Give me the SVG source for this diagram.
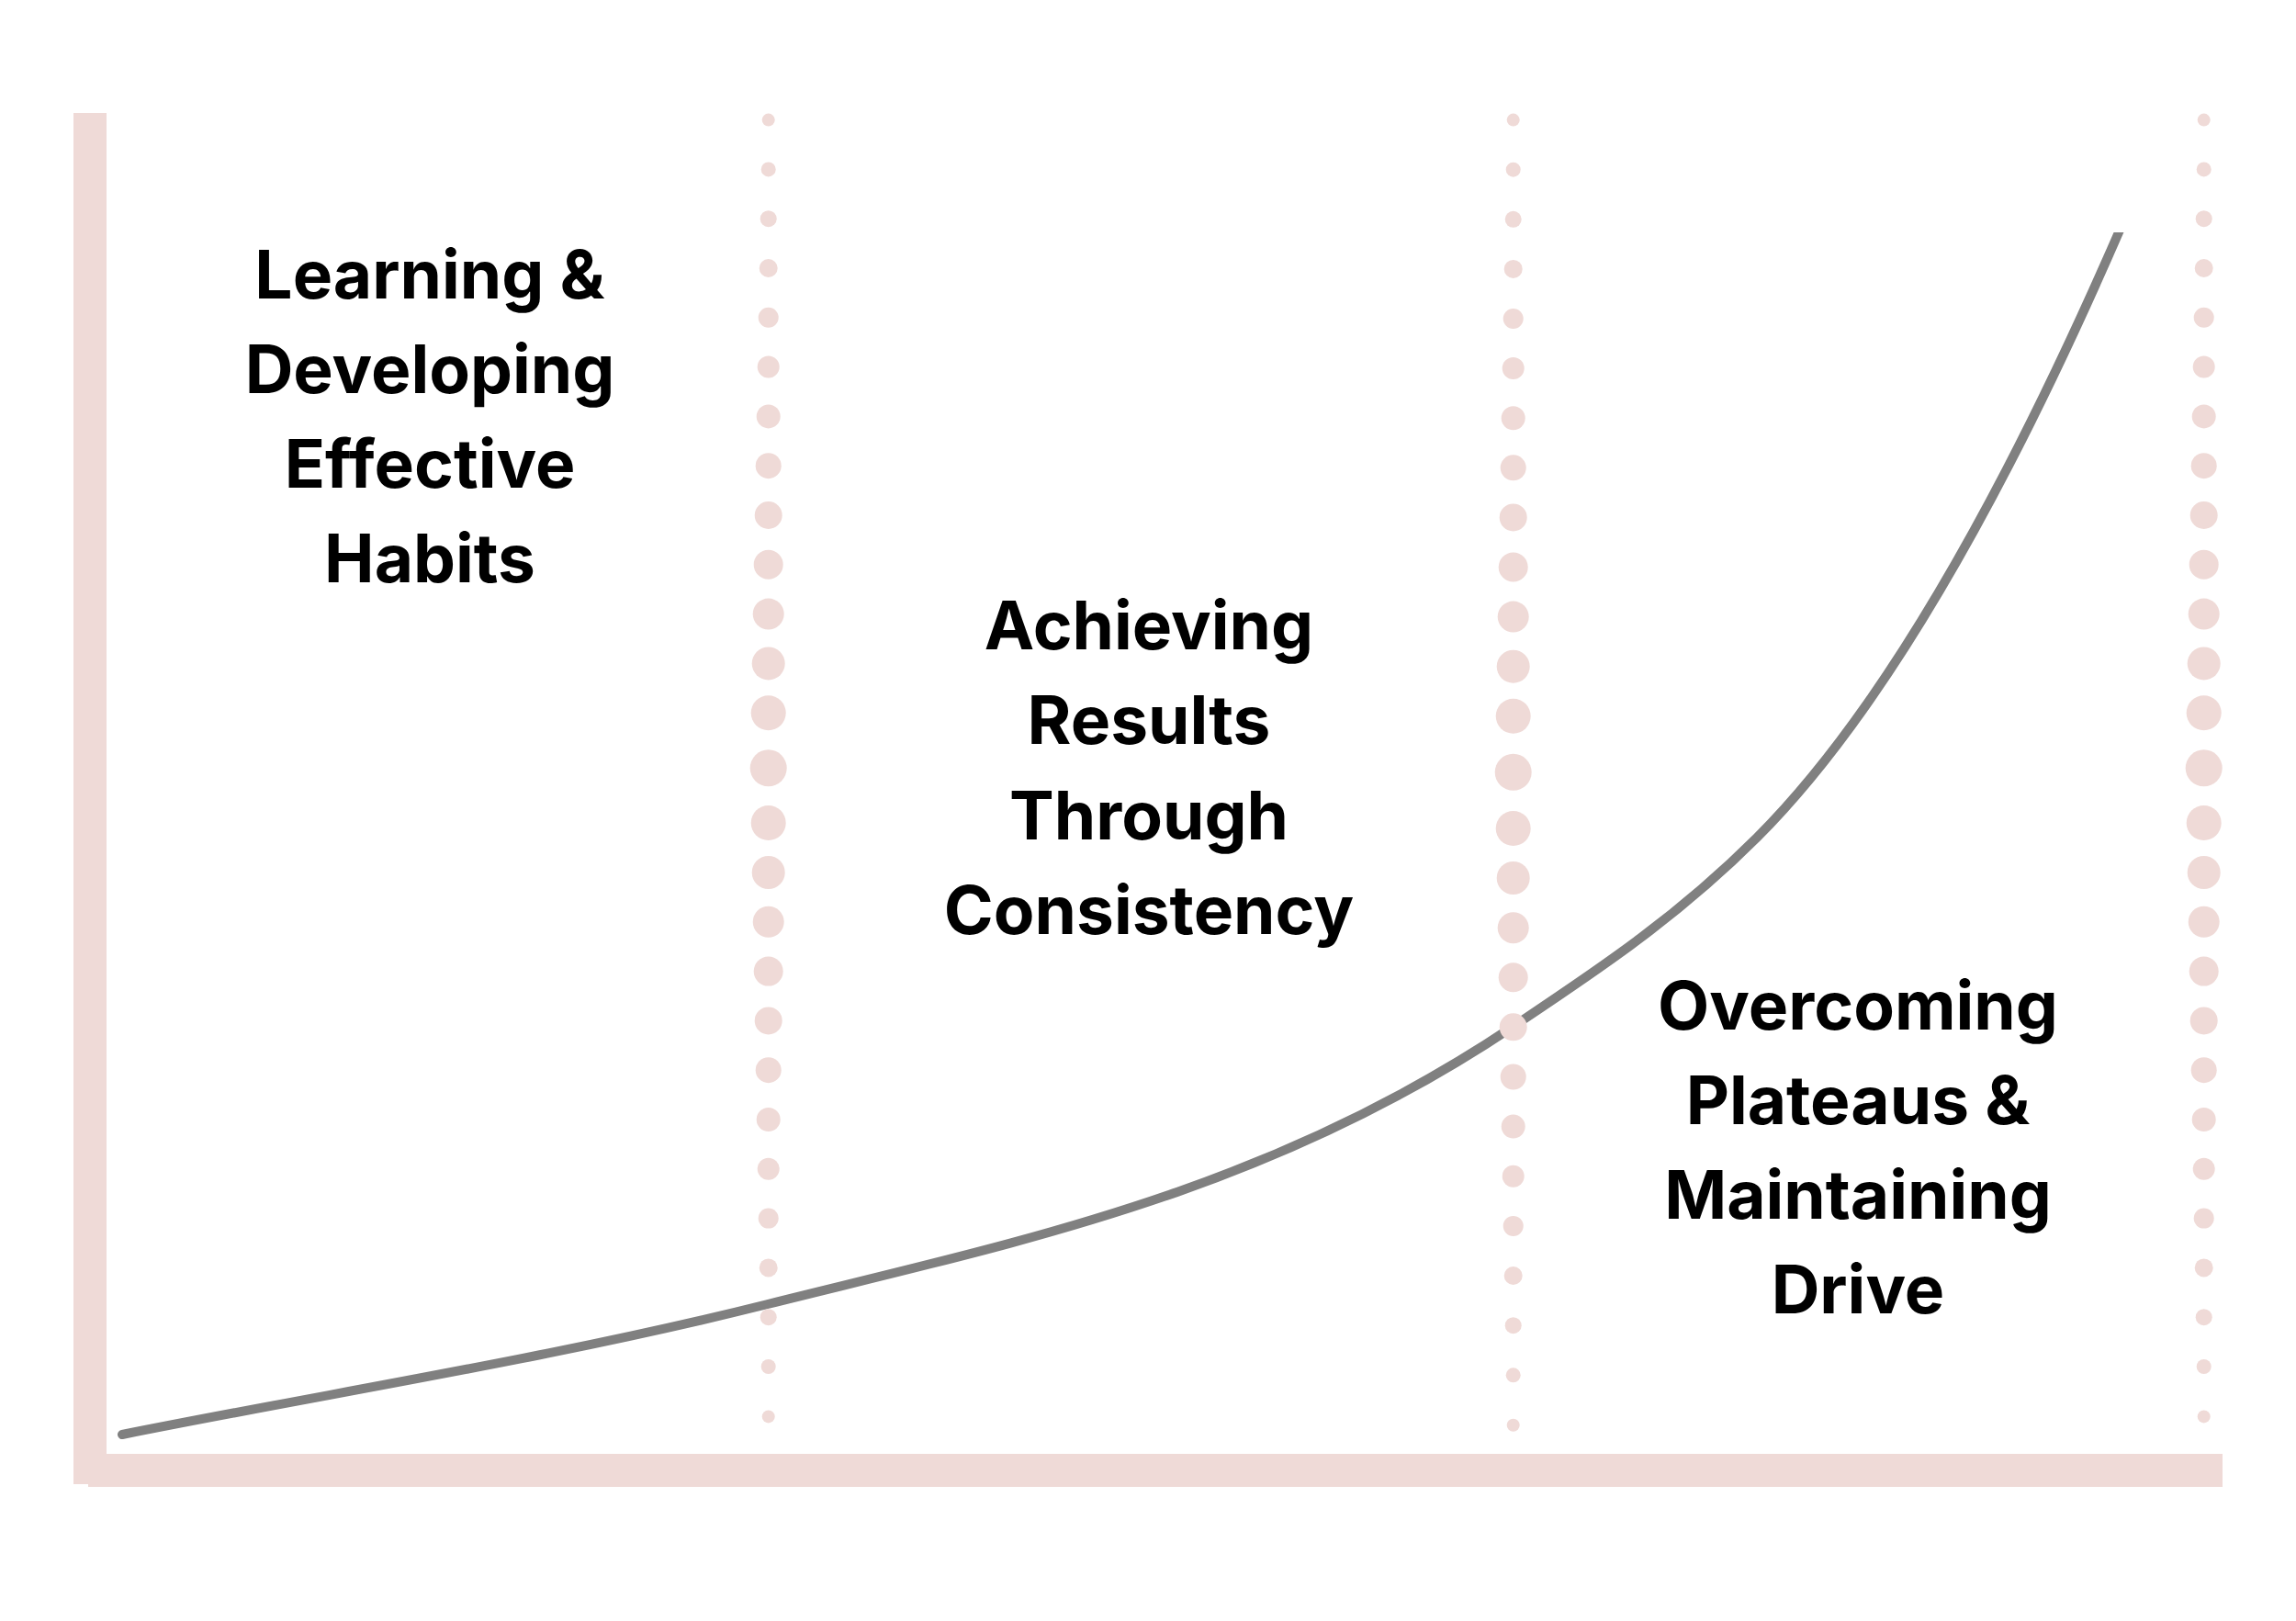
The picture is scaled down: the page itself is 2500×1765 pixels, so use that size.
<svg xmlns="http://www.w3.org/2000/svg" width="2500" height="1765" viewBox="0 0 2500 1765">
<style>
.bar{fill:#EFDAD7}
.dot{fill:#EFDAD7}
.lbl{font-family:Inter,"Liberation Sans",sans-serif;font-weight:700;font-size:73px;fill:#000;text-anchor:middle}
.curve{fill:none;stroke:#808080;stroke-width:10;stroke-linecap:round}
</style>
<defs>
<clipPath id="clipTop"><rect x="0" y="253" width="2500" height="1512"/></clipPath>
</defs>
<rect width="2500" height="1765" fill="#fff"/>
<g id="axes">
<rect class="bar" x="80" y="123" width="36" height="1493"/>
<rect class="bar" x="96" y="1583" width="2324" height="36"/>
</g>
<g id="connectors">
<path class="curve" clip-path="url(#clipTop)" d="M133,1562 C367.3,1515.1 601.7,1478.6 836,1420 C1106.3,1352.4 1376.7,1299.1 1647,1118 C1735.7,1058.6 1824.3,1000.7 1913,912 C2044.3,780.7 2175.7,555 2307,253 L2320,223"/>
</g>
<g id="divider1">
<circle class="dot" cx="836.7" cy="130.6" r="7"/>
<circle class="dot" cx="836.7" cy="184.4" r="8"/>
<circle class="dot" cx="836.7" cy="238.2" r="9"/>
<circle class="dot" cx="836.7" cy="292" r="10"/>
<circle class="dot" cx="836.7" cy="345.8" r="11"/>
<circle class="dot" cx="836.7" cy="399.6" r="12"/>
<circle class="dot" cx="836.7" cy="453.4" r="13"/>
<circle class="dot" cx="836.7" cy="507.2" r="14"/>
<circle class="dot" cx="836.7" cy="561" r="15"/>
<circle class="dot" cx="836.7" cy="614.8" r="16"/>
<circle class="dot" cx="836.7" cy="668.6" r="17"/>
<circle class="dot" cx="836.7" cy="722.4" r="18"/>
<circle class="dot" cx="836.7" cy="776.2" r="19"/>
<circle class="dot" cx="836.7" cy="836.3" r="20"/>
<circle class="dot" cx="836.7" cy="896" r="19"/>
<circle class="dot" cx="836.7" cy="950" r="18"/>
<circle class="dot" cx="836.7" cy="1003.8" r="17"/>
<circle class="dot" cx="836.7" cy="1057.6" r="16"/>
<circle class="dot" cx="836.7" cy="1111.4" r="15"/>
<circle class="dot" cx="836.7" cy="1165.2" r="14"/>
<circle class="dot" cx="836.7" cy="1219" r="13"/>
<circle class="dot" cx="836.7" cy="1272.8" r="12"/>
<circle class="dot" cx="836.7" cy="1326.6" r="11"/>
<circle class="dot" cx="836.7" cy="1380.4" r="10"/>
<circle class="dot" cx="836.7" cy="1434.2" r="9"/>
<circle class="dot" cx="836.7" cy="1488" r="8"/>
<circle class="dot" cx="836.7" cy="1542.4" r="7"/>
</g>
<g id="divider2">
<circle class="dot" cx="1647.7" cy="130.6" r="7"/>
<circle class="dot" cx="1647.7" cy="184.7" r="8"/>
<circle class="dot" cx="1647.7" cy="238.8" r="9"/>
<circle class="dot" cx="1647.7" cy="292.9" r="10"/>
<circle class="dot" cx="1647.7" cy="347" r="11"/>
<circle class="dot" cx="1647.7" cy="401.1" r="12"/>
<circle class="dot" cx="1647.7" cy="455.2" r="13"/>
<circle class="dot" cx="1647.7" cy="509.3" r="14"/>
<circle class="dot" cx="1647.7" cy="563.4" r="15"/>
<circle class="dot" cx="1647.7" cy="617.5" r="16"/>
<circle class="dot" cx="1647.7" cy="671.6" r="17"/>
<circle class="dot" cx="1647.7" cy="725.7" r="18"/>
<circle class="dot" cx="1647.7" cy="779.8" r="19"/>
<circle class="dot" cx="1647.7" cy="840.8" r="20"/>
<circle class="dot" cx="1647.7" cy="902" r="19"/>
<circle class="dot" cx="1647.7" cy="956" r="18"/>
<circle class="dot" cx="1647.7" cy="1010.2" r="17"/>
<circle class="dot" cx="1647.7" cy="1064.3" r="16"/>
<circle class="dot" cx="1647.7" cy="1118.3" r="15"/>
<circle class="dot" cx="1647.7" cy="1172.5" r="14"/>
<circle class="dot" cx="1647.7" cy="1226.6" r="13"/>
<circle class="dot" cx="1647.7" cy="1280.8" r="12"/>
<circle class="dot" cx="1647.7" cy="1334.9" r="11"/>
<circle class="dot" cx="1647.7" cy="1389" r="10"/>
<circle class="dot" cx="1647.7" cy="1443.2" r="9"/>
<circle class="dot" cx="1647.7" cy="1497.3" r="8"/>
<circle class="dot" cx="1647.7" cy="1551.8" r="7"/>
</g>
<g id="divider3">
<circle class="dot" cx="2399.7" cy="130.6" r="7"/>
<circle class="dot" cx="2399.7" cy="184.4" r="8"/>
<circle class="dot" cx="2399.7" cy="238.2" r="9"/>
<circle class="dot" cx="2399.7" cy="292" r="10"/>
<circle class="dot" cx="2399.7" cy="345.8" r="11"/>
<circle class="dot" cx="2399.7" cy="399.6" r="12"/>
<circle class="dot" cx="2399.7" cy="453.4" r="13"/>
<circle class="dot" cx="2399.7" cy="507.2" r="14"/>
<circle class="dot" cx="2399.7" cy="561" r="15"/>
<circle class="dot" cx="2399.7" cy="614.8" r="16"/>
<circle class="dot" cx="2399.7" cy="668.6" r="17"/>
<circle class="dot" cx="2399.7" cy="722.4" r="18"/>
<circle class="dot" cx="2399.7" cy="776.2" r="19"/>
<circle class="dot" cx="2399.7" cy="836.3" r="20"/>
<circle class="dot" cx="2399.7" cy="896" r="19"/>
<circle class="dot" cx="2399.7" cy="950" r="18"/>
<circle class="dot" cx="2399.7" cy="1003.8" r="17"/>
<circle class="dot" cx="2399.7" cy="1057.6" r="16"/>
<circle class="dot" cx="2399.7" cy="1111.4" r="15"/>
<circle class="dot" cx="2399.7" cy="1165.2" r="14"/>
<circle class="dot" cx="2399.7" cy="1219" r="13"/>
<circle class="dot" cx="2399.7" cy="1272.8" r="12"/>
<circle class="dot" cx="2399.7" cy="1326.6" r="11"/>
<circle class="dot" cx="2399.7" cy="1380.4" r="10"/>
<circle class="dot" cx="2399.7" cy="1434.2" r="9"/>
<circle class="dot" cx="2399.7" cy="1488" r="8"/>
<circle class="dot" cx="2399.7" cy="1542.4" r="7"/>
</g>
<g id="phase1">
<text class="lbl" x="468" y="325">Learning &amp;</text>
<text class="lbl" x="468" y="428">Developing</text>
<text class="lbl" x="468" y="531">Effective</text>
<text class="lbl" x="468" y="634">Habits</text>
</g>
<g id="phase2">
<text class="lbl" x="1251" y="707">Achieving</text>
<text class="lbl" x="1251" y="810">Results</text>
<text class="lbl" x="1251" y="914">Through</text>
<text class="lbl" x="1251" y="1017">Consistency</text>
</g>
<g id="phase3">
<text class="lbl" x="2023" y="1121">Overcoming</text>
<text class="lbl" x="2023" y="1224">Plateaus &amp;</text>
<text class="lbl" x="2023" y="1327">Maintaining</text>
<text class="lbl" x="2023" y="1430">Drive</text>
</g>
</svg>
